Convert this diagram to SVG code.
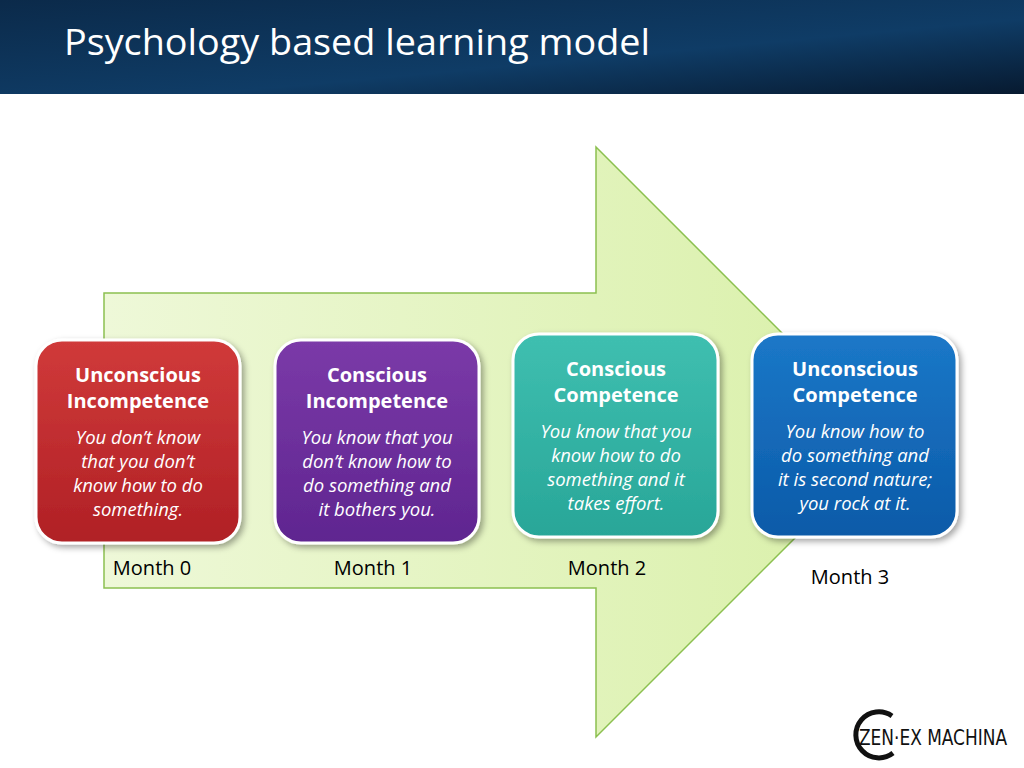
<svg xmlns="http://www.w3.org/2000/svg" width="1024" height="768" viewBox="0 0 1024 768">
<defs>
<linearGradient id="hdr" x1="0" y1="0" x2="1" y2="1"><stop offset="0" stop-color="#0b2a4a"/><stop offset="0.6" stop-color="#0f3c66"/><stop offset="1" stop-color="#071a30"/></linearGradient>
<linearGradient id="arr" x1="0" y1="0" x2="1" y2="0"><stop offset="0" stop-color="#eef8d8"/><stop offset="1" stop-color="#d9f0a8"/></linearGradient>
<linearGradient id="red" x1="0" y1="0" x2="0" y2="1"><stop offset="0" stop-color="#d03a3a"/><stop offset="1" stop-color="#b02025"/></linearGradient>
<linearGradient id="pur" x1="0" y1="0" x2="0" y2="1"><stop offset="0" stop-color="#7b3aa8"/><stop offset="1" stop-color="#5f2590"/></linearGradient>
<linearGradient id="tea" x1="0" y1="0" x2="0" y2="1"><stop offset="0" stop-color="#3fbfb0"/><stop offset="1" stop-color="#28a698"/></linearGradient>
<linearGradient id="blu" x1="0" y1="0" x2="0" y2="1"><stop offset="0" stop-color="#1b78c8"/><stop offset="1" stop-color="#0b5aa8"/></linearGradient>
<filter id="sh" x="-10%" y="-10%" width="130%" height="130%"><feDropShadow dx="3" dy="3" stdDeviation="3" flood-opacity="0.35"/></filter>
</defs>
<style>
.t{font-family:"Open Sans","Liberation Sans",sans-serif;fill:#fff;text-anchor:middle}
.h{font-size:20px;font-weight:bold}
.d{font-size:18.5px;font-style:italic}
.m{font-family:"Open Sans","Liberation Sans",sans-serif;font-size:20px;fill:#000;text-anchor:middle}
.box{stroke:#fff;stroke-width:3;filter:url(#sh)}
</style>
<rect width="1024" height="768" fill="#fff"/>
<rect width="1024" height="94" fill="url(#hdr)"/>
<text x="64" y="55" font-family="'Open Sans','Liberation Sans',sans-serif" font-size="36" fill="#fff" textLength="586" lengthAdjust="spacingAndGlyphs">Psychology based learning model</text>
<g id="arrow"><path d="M104,293 H596 V147 L891,442 L596,737 V588 H104 Z" fill="url(#arr)" stroke="#8cc050" stroke-width="1.5"/></g>
<g id="n1"><rect class="box" x="36" y="340" width="204" height="203" rx="26" fill="url(#red)"/>
<text class="t h" x="138" y="382">Unconscious</text><text class="t h" x="138" y="408">Incompetence</text>
<text class="t d" x="138" y="444">You don’t know</text><text class="t d" x="138" y="468">that you don’t</text><text class="t d" x="138" y="492">know how to do</text><text class="t d" x="138" y="516">something.</text></g>
<g id="n2"><rect class="box" x="275" y="340" width="204" height="203" rx="26" fill="url(#pur)"/>
<text class="t h" x="377" y="382">Conscious</text><text class="t h" x="377" y="408">Incompetence</text>
<text class="t d" x="377" y="444">You know that you</text><text class="t d" x="377" y="468">don’t know how to</text><text class="t d" x="377" y="492">do something and</text><text class="t d" x="377" y="516">it bothers you.</text></g>
<g id="n3"><rect class="box" x="513" y="334" width="205" height="203" rx="26" fill="url(#tea)"/>
<text class="t h" x="616" y="376">Conscious</text><text class="t h" x="616" y="402">Competence</text>
<text class="t d" x="616" y="438">You know that you</text><text class="t d" x="616" y="462">know how to do</text><text class="t d" x="616" y="486">something and it</text><text class="t d" x="616" y="510">takes effort.</text></g>
<g id="n4"><rect class="box" x="752" y="334" width="205" height="203" rx="26" fill="url(#blu)"/>
<text class="t h" x="855" y="376">Unconscious</text><text class="t h" x="855" y="402">Competence</text>
<text class="t d" x="855" y="438">You know how to</text><text class="t d" x="855" y="462">do something and</text><text class="t d" x="855" y="486">it is second nature;</text><text class="t d" x="855" y="510">you rock at it.</text></g>
<text class="m" x="152" y="575">Month 0</text>
<text class="m" x="373" y="575">Month 1</text>
<text class="m" x="607" y="575">Month 2</text>
<text class="m" x="850" y="584">Month 3</text>
<g id="logo">
<path d="M892,716 A23,23 0 1 0 893,753" fill="none" stroke="#111" stroke-width="5"/>
<text x="859" y="745" font-family="'DejaVu Sans Condensed','Liberation Sans Narrow',sans-serif" font-size="22" fill="#111" textLength="148" lengthAdjust="spacingAndGlyphs">ZEN·EX MACHINA</text>
</g>
</svg>
